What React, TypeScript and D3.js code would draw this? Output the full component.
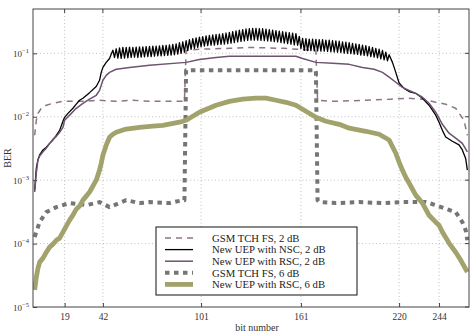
import React, { useEffect, useRef } from "react";
import * as d3 from "d3";

// axis ticks
const xTicks = [19, 42, 101, 161, 220, 244];
const yTicks = [1e-1, 1e-2, 1e-3, 1e-4, 1e-5];
const yTickExp = ["−1", "−2", "−3", "−4", "−5"];

// GSM TCH FS, 2 dB
const gsm2Bits = [1, 2, 3, 5, 8, 12, 18, 24, 30, 40, 50, 60, 70, 80, 91, 92, 100, 118, 130, 150, 170, 171, 180, 200, 215, 225, 235, 242, 248, 254, 259, 261];
const gsm2Ber = [0.0051, 0.0088, 0.0113, 0.0136, 0.0152, 0.0163, 0.0175, 0.0175, 0.0175, 0.0182, 0.0175, 0.0182, 0.0175, 0.0175, 0.0175, 0.111, 0.116, 0.12, 0.124, 0.12, 0.111, 0.0182, 0.0175, 0.0182, 0.0189, 0.0196, 0.0189, 0.0169, 0.0158, 0.0136, 0.0088, 0.0051];

// New UEP with NSC, 2 dB (rise, per-bit middle part, tail)
const nscRiseBits = [1, 2, 3, 4, 6, 8, 10, 12, 14, 16, 18, 19, 21, 24, 26, 28, 30, 34, 38, 40, 41, 42, 44, 46, 47];
const nscRiseBer = [0.0007, 0.00155, 0.0021, 0.0025, 0.003, 0.0033, 0.0038, 0.0043, 0.0051, 0.0061, 0.0085, 0.0098, 0.0113, 0.0136, 0.0158, 0.0182, 0.0196, 0.024, 0.03, 0.0376, 0.05, 0.06, 0.072, 0.083, 0.097];
const nscMidStart = 48;
const nscMidBer = [
  0.112, 0.086, 0.118, 0.084, 0.122, 0.083, 0.124, 0.084, 0.124, 0.085,
  0.125, 0.086, 0.124, 0.087, 0.125, 0.086, 0.126, 0.087, 0.126, 0.088,
  0.128, 0.089, 0.129, 0.089, 0.13, 0.09, 0.13, 0.091, 0.131, 0.091,
  0.133, 0.092, 0.134, 0.093, 0.136, 0.094, 0.138, 0.095, 0.141, 0.097,
  0.147, 0.1, 0.152, 0.104, 0.158, 0.11, 0.165, 0.115, 0.17, 0.12,
  0.175, 0.124, 0.18, 0.127, 0.184, 0.13, 0.188, 0.132, 0.192, 0.134,
  0.195, 0.135, 0.198, 0.137, 0.201, 0.138, 0.205, 0.14, 0.209, 0.142,
  0.214, 0.145, 0.22, 0.148, 0.226, 0.151, 0.232, 0.154, 0.237, 0.157,
  0.242, 0.16, 0.246, 0.161, 0.248, 0.161, 0.248, 0.161, 0.246, 0.16,
  0.244, 0.159, 0.241, 0.157, 0.236, 0.155, 0.232, 0.153, 0.228, 0.151,
  0.224, 0.148, 0.22, 0.145, 0.216, 0.142, 0.212, 0.139, 0.208, 0.136,
  0.205, 0.134, 0.185, 0.118, 0.172, 0.111, 0.17, 0.11, 0.168, 0.11,
  0.167, 0.109, 0.166, 0.109, 0.165, 0.108, 0.164, 0.108, 0.162, 0.107,
  0.161, 0.106, 0.159, 0.105, 0.157, 0.104, 0.155, 0.103, 0.152, 0.101,
  0.15, 0.1, 0.147, 0.099, 0.144, 0.097, 0.141, 0.096, 0.138, 0.094,
  0.135, 0.093, 0.132, 0.091, 0.128, 0.089, 0.124, 0.087, 0.12, 0.085,
  0.116, 0.082, 0.111, 0.079, 0.104, 0.076, 0.095,
];
const nscTailBits = [216, 218, 220, 223, 226, 230, 234, 238, 242, 244, 246, 248, 252, 256, 258, 260, 261];
const nscTailBer = [0.072, 0.05, 0.034, 0.028, 0.025, 0.0234, 0.0196, 0.0152, 0.0106, 0.0082, 0.0061, 0.0048, 0.0041, 0.0036, 0.003, 0.0022, 0.00144];

// New UEP with RSC, 2 dB
const rsc2Bits = [1, 2, 3, 4, 6, 8, 10, 12, 14, 16, 18, 19, 22, 26, 30, 34, 38, 40, 42, 44, 46, 50, 58, 70, 92, 100, 110, 118, 130, 140, 150, 158, 162, 170, 180, 190, 198, 205, 210, 214, 218, 222, 226, 230, 234, 238, 242, 246, 250, 254, 258, 261];
const rsc2Ber = [0.00065, 0.0013, 0.0021, 0.0024, 0.0028, 0.0032, 0.0038, 0.0044, 0.0049, 0.0057, 0.0068, 0.0088, 0.0106, 0.0136, 0.0163, 0.0189, 0.0218, 0.0261, 0.0376, 0.045, 0.05, 0.056, 0.06, 0.065, 0.072, 0.08, 0.086, 0.09, 0.09, 0.09, 0.09, 0.09, 0.083, 0.072, 0.07, 0.067, 0.06, 0.056, 0.05, 0.042, 0.035, 0.029, 0.026, 0.0234, 0.0203, 0.0163, 0.0118, 0.0076, 0.0055, 0.0046, 0.0038, 0.0028];

// GSM TCH FS, 6 dB
const gsm6Bits = [1, 4, 8, 14, 22, 32, 40, 46, 56, 64, 70, 82, 90, 91, 92, 170, 171, 172, 182, 196, 210, 222, 236, 242, 254, 258, 260, 261];
const gsm6Ber = [0.000127, 0.000218, 0.000313, 0.000376, 0.000435, 0.000404, 0.000451, 0.000376, 0.000484, 0.000435, 0.000451, 0.000435, 0.000484, 0.000484, 0.054, 0.054, 0.000484, 0.000451, 0.000435, 0.000451, 0.000435, 0.000451, 0.000451, 0.000404, 0.000313, 0.000218, 0.000163, 0.000113];

// New UEP with RSC, 6 dB
const rsc6Bits = [1, 2, 3, 4, 6, 8, 10, 12, 14, 16, 18, 20, 22, 24, 26, 28, 30, 32, 34, 36, 38, 40, 41, 42, 43, 44, 46, 48, 50, 56, 64, 72, 78, 88, 92, 100, 110, 118, 126, 134, 140, 146, 152, 158, 164, 170, 176, 184, 190, 200, 208, 214, 218, 220, 222, 224, 226, 230, 234, 238, 242, 244, 246, 250, 254, 257, 261];
const rsc6Ber = [1.85e-5, 2.97e-5, 4.1e-5, 5.1e-5, 5.9e-5, 7.3e-5, 8.8e-5, 9.8e-5, 1.13e-4, 1.22e-4, 1.52e-4, 1.89e-4, 2.34e-4, 2.81e-4, 3.49e-4, 3.9e-4, 4.84e-4, 5.6e-4, 6.5e-4, 8.05e-4, 0.001, 0.00144, 0.00185, 0.00248, 0.00297, 0.00356, 0.00475, 0.0053, 0.0057, 0.0064, 0.0068, 0.0071, 0.0073, 0.0082, 0.0088, 0.0118, 0.0152, 0.0175, 0.0189, 0.0196, 0.0196, 0.0182, 0.0169, 0.0152, 0.0122, 0.0098, 0.0085, 0.0076, 0.0066, 0.0059, 0.0053, 0.0043, 0.00266, 0.00192, 0.00144, 0.00111, 0.0009, 0.00058, 0.000435, 0.00028, 0.000218, 0.000195, 0.000152, 0.000102, 7.3e-5, 5.5e-5, 3.56e-5];

const legendLabels = [
  "GSM TCH FS, 2 dB",
  "New UEP with NSC, 2 dB",
  "New UEP with RSC, 2 dB",
  "GSM TCH FS, 6 dB",
  "New UEP with RSC, 6 dB",
];

const W = 474;
const H = 333;
const margin = { top: 9, right: 5, bottom: 26, left: 33 };
const FONT = "'Liberation Serif', 'Times New Roman', serif";

const zip = (bits: number[], ber: number[]) => bits.map((b, i) => [b, ber[i]] as [number, number]);

export default function App() {
  const ref = useRef<SVGSVGElement>(null);

  useEffect(() => {
    const svg = d3.select(ref.current);
    svg.selectAll("*").remove();
    const w = W - margin.left - margin.right;
    const h = H - margin.top - margin.bottom;

    const x = d3.scaleLinear().domain([0, 262]).range([0, w]);
    const y = d3.scaleLog().domain([1e-5, 0.5]).range([h, 0]);

    const nscData = [
      ...zip(nscRiseBits, nscRiseBer),
      ...nscMidBer.map((v, i) => [nscMidStart + i, v] as [number, number]),
      ...zip(nscTailBits, nscTailBer),
    ];

    const series = [
      { data: zip(gsm2Bits, gsm2Ber), color: "#8d7487", width: 1.5, dash: "6,5" },
      { data: nscData, color: "#000000", width: 1.3, dash: null },
      { data: zip(rsc2Bits, rsc2Ber), color: "#6d5370", width: 1.5, dash: null },
      { data: zip(gsm6Bits, gsm6Ber), color: "#757575", width: 4, dash: "4.5,4.5" },
      { data: zip(rsc6Bits, rsc6Ber), color: "#a2a36c", width: 4.8, dash: null },
    ];

    svg.append("rect").attr("width", W).attr("height", H).attr("fill", "#fff");

    svg.append("defs").append("clipPath").attr("id", "plotclip")
      .append("rect").attr("width", w).attr("height", h);

    const g = svg.append("g").attr("transform", `translate(${margin.left},${margin.top})`);

    // dotted grid
    g.append("g").selectAll("line").data(xTicks).join("line")
      .attr("x1", (d) => x(d)).attr("x2", (d) => x(d))
      .attr("y1", 0).attr("y2", h)
      .attr("stroke", "#b0b0b0").attr("stroke-width", 0.8).attr("stroke-dasharray", "1,2.5");
    g.append("g").selectAll("line").data(yTicks.slice(0, 4)).join("line")
      .attr("y1", (d) => y(d)).attr("y2", (d) => y(d))
      .attr("x1", 0).attr("x2", w)
      .attr("stroke", "#b0b0b0").attr("stroke-width", 0.8).attr("stroke-dasharray", "1,2.5");

    // series
    const line = d3.line<[number, number]>().x((d) => x(d[0])).y((d) => y(d[1]));
    const sg = g.append("g").attr("clip-path", "url(#plotclip)");
    series.forEach((s) => {
      sg.append("path")
        .attr("d", line(s.data))
        .attr("fill", "none")
        .attr("stroke", s.color)
        .attr("stroke-width", s.width)
        .attr("stroke-linejoin", "round")
        .attr("stroke-dasharray", s.dash);
    });

    // axes
    const xAxis = g.append("g").attr("transform", `translate(0,${h})`)
      .call(d3.axisBottom(x).tickValues(xTicks).tickSize(-4).tickSizeOuter(0).tickPadding(6));
    xAxis.selectAll("text").attr("font-family", FONT).attr("font-size", 9.5).attr("fill", "#333");

    const yAxis = g.append("g")
      .call(d3.axisLeft(y).tickValues(yTicks).tickSize(-4).tickSizeOuter(0).tickFormat(() => ""));
    yAxis.selectAll(".tick").each(function (d, i) {
      const t = d3.select(this).append("text")
        .attr("x", -4).attr("dy", "0.35em")
        .attr("text-anchor", "end")
        .attr("font-family", FONT).attr("font-size", 9).attr("fill", "#333");
      t.append("tspan").text("10");
      t.append("tspan").attr("dy", -4).attr("font-size", 6.5).text(yTickExp[i]);
    });

    [xAxis, yAxis].forEach((a) => {
      a.selectAll("line").attr("stroke", "#444");
      a.select(".domain").remove();
    });

    // top / right ticks
    g.append("g").selectAll("line").data(xTicks).join("line")
      .attr("x1", (d) => x(d)).attr("x2", (d) => x(d)).attr("y1", 0).attr("y2", 4)
      .attr("stroke", "#444");
    g.append("g").selectAll("line").data(yTicks).join("line")
      .attr("y1", (d) => y(d)).attr("y2", (d) => y(d)).attr("x1", w).attr("x2", w - 4)
      .attr("stroke", "#444");

    // frame
    g.append("rect").attr("width", w).attr("height", h)
      .attr("fill", "none").attr("stroke", "#444").attr("stroke-width", 1);

    // axis labels
    svg.append("text")
      .attr("x", margin.left + w / 2 + 6).attr("y", 331)
      .attr("text-anchor", "middle")
      .attr("font-family", FONT).attr("font-size", 10).attr("fill", "#333")
      .text("bit number");
    svg.append("text")
      .attr("transform", `translate(11,${margin.top + h / 2}) rotate(-90)`)
      .attr("text-anchor", "middle")
      .attr("font-family", FONT).attr("font-size", 10).attr("fill", "#333")
      .text("BER");

    // legend
    const lg = svg.append("g").attr("transform", "translate(156,227)");
    lg.append("rect").attr("width", 201).attr("height", 68)
      .attr("fill", "#fff").attr("stroke", "#111").attr("stroke-width", 1);
    legendLabels.forEach((label, i) => {
      const s = series[i];
      const yy = 11 + i * 11.6;
      lg.append("line")
        .attr("x1", 9).attr("x2", 37).attr("y1", yy).attr("y2", yy)
        .attr("stroke", s.color).attr("stroke-width", s.width)
        .attr("stroke-dasharray", s.dash);
      lg.append("text")
        .attr("x", 56).attr("y", yy).attr("dy", "0.35em")
        .attr("font-family", FONT).attr("font-size", 10.7).attr("fill", "#222")
        .text(label);
    });
  }, []);

  return (
    <svg
      ref={ref}
      width={W}
      height={H}
      style={{ position: "absolute", left: 0, top: 0, display: "block" }}
    />
  );
}
